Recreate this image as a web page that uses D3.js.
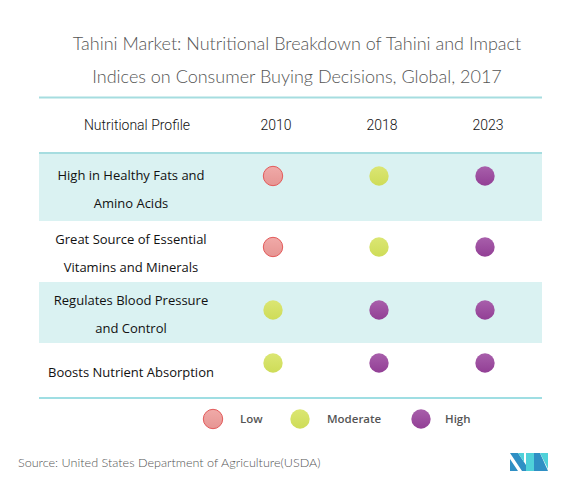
<!DOCTYPE html>
<html>
<head>
<meta charset="utf-8">
<script src="https://cdn.jsdelivr.net/npm/d3@7"></script>
<style>
  body { margin: 0; background: #fff; }
  svg { display: block; }
</style>
</head>
<body>
<div id="chart"></div>
<script>
// table content
var profiles = [
  ['High in Healthy Fats and', 'Amino Acids'],
  ['Great Source of Essential', 'Vitamins and Minerals'],
  ['Regulates Blood Pressure', 'and Control'],
  ['Boosts Nutrient Absorption']
];
var years = ['2010', '2018', '2023'];
var rating2010 = ['Low', 'Low', 'Moderate', 'Moderate'];
var rating2018 = ['Moderate', 'Moderate', 'High', 'High'];
var rating2023 = ['High', 'High', 'High', 'High'];
var levels = ['Low', 'Moderate', 'High'];

var ratings = [rating2010, rating2018, rating2023];

var width = 578, height = 485;

var svg = d3.select('#chart')
  .append('svg')
    .attr('width', width)
    .attr('height', height);

// gradients for the dots
var defs = svg.append('defs');
var dotColors = {
  Low:      { light: '#f0aaa8', dark: '#e69593', stroke: '#e35a5a' },
  Moderate: { light: '#dbe673', dark: '#cedc58', stroke: 'none' },
  High:     { light: '#a85fab', dark: '#923f95', stroke: 'none' }
};
levels.forEach(function(l) {
  var g = defs.append('linearGradient')
    .attr('id', 'grad-' + l)
    .attr('x1', 0).attr('y1', 0).attr('x2', 0).attr('y2', 1);
  g.append('stop').attr('offset', '0%').attr('stop-color', dotColors[l].light);
  g.append('stop').attr('offset', '100%').attr('stop-color', dotColors[l].dark);
});

// title
svg.append('g')
  .selectAll('text')
  .data(['Tahini Market: Nutritional Breakdown of Tahini and Impact',
         'Indices on Consumer Buying Decisions, Global, 2017'])
  .enter()
    .append('text')
      .attr('x', 297)
      .attr('y', function(d, i) { return 50 + i * 33.3; })
      .attr('text-anchor', 'middle')
      .attr('font-family', 'Lato, sans-serif')
      .attr('font-weight', 300)
      .attr('font-size', 18)
      .attr('fill', '#555')
      .text(function(d) { return d; });

var left = 39, right = 542;
var labelX = 131;

// year columns
var x = d3.scalePoint()
  .domain(years)
  .range([273, 485]);

// rows (first row a little taller)
var rowHeights = [68, 61, 61, 55];
var rowTop = [153];
rowHeights.forEach(function(h, i) { rowTop.push(rowTop[i] + h); });
var labelOffset = [27, 23, 23, 34];
var dotOffset = [23, 26, 28, 20];

// row bands
svg.append('g')
  .selectAll('rect')
  .data(profiles)
  .enter()
    .append('rect')
      .attr('x', left)
      .attr('y', function(d, i) { return rowTop[i]; })
      .attr('width', right - left)
      .attr('height', function(d, i) { return rowHeights[i]; })
      .attr('fill', function(d, i) { return i % 2 === 0 ? '#daf2f2' : '#fff'; });

// rules
svg.append('g')
  .selectAll('line')
  .data([97.5, 153, rowTop[4]])
  .enter()
    .append('line')
      .attr('x1', left).attr('x2', right)
      .attr('y1', function(d) { return d; })
      .attr('y2', function(d) { return d; })
      .attr('stroke', function(d, i) { return i === 2 ? '#7fd3da' : '#a6dde0'; })
      .attr('stroke-width', function(d, i) { return i === 2 ? 1.3 : 2.2; });

// header
var header = svg.append('g')
  .attr('font-family', 'Roboto, sans-serif')
  .attr('font-weight', 300)
  .attr('font-size', 14)
  .attr('fill', '#111')
  .attr('text-anchor', 'middle');

header.append('text')
  .attr('x', 137)
  .attr('y', 130)
  .text('Nutritional Profile');

header.selectAll('text.year')
  .data(years)
  .enter()
    .append('text')
      .attr('class', 'year')
      .attr('x', function(d) { return x(d) + 3; })
      .attr('y', 130)
      .text(function(d) { return d; });

// row labels
var labels = svg.append('g')
  .selectAll('text')
  .data(profiles)
  .enter()
    .append('text')
      .attr('text-anchor', 'middle')
      .attr('font-family', '"Open Sans", sans-serif')
      .attr('font-size', 13)
      .attr('fill', '#111');

labels.each(function(d, i) {
  var t = d3.select(this);
  d.forEach(function(line, j) {
    t.append('tspan')
      .attr('x', labelX)
      .attr('y', rowTop[i] + labelOffset[i] + j * 27.7)
      .text(line);
  });
});

// dots
ratings.forEach(function(col, c) {
  svg.append('g')
    .selectAll('circle')
    .data(col)
    .enter()
      .append('circle')
        .attr('cx', x(years[c]))
        .attr('cy', function(d, i) { return rowTop[i] + dotOffset[i]; })
        .attr('r', 9.7)
        .attr('fill', function(d) { return 'url(#grad-' + d + ')'; })
        .attr('stroke', function(d) { return dotColors[d].stroke; })
        .attr('stroke-width', 1);
});

// legend
var legendX = d3.scaleOrdinal().domain(levels).range([213, 300, 421]);
var legend = svg.append('g')
  .selectAll('g')
  .data(levels)
  .enter()
    .append('g')
      .attr('transform', function(d) { return 'translate(' + legendX(d) + ',419)'; });

legend.append('circle')
  .attr('r', 9.7)
  .attr('fill', function(d) { return 'url(#grad-' + d + ')'; })
  .attr('stroke', function(d) { return dotColors[d].stroke; })
  .attr('stroke-width', 1);

legend.append('text')
  .attr('x', function(d) { return d === 'High' ? 24 : 27; })
  .attr('y', 4)
  .attr('font-family', '"Open Sans", sans-serif')
  .attr('font-weight', 600)
  .attr('font-size', 11.5)
  .attr('fill', '#555')
  .text(function(d) { return d; });

// source
svg.append('text')
  .attr('x', 18)
  .attr('y', 467)
  .attr('font-family', 'Lato, sans-serif')
  .attr('font-weight', 300)
  .attr('font-size', 12.6)
  .attr('fill', '#555')
  .text('Source: United States Department of Agriculture(USDA)');

// logo
var logo = svg.append('g').attr('transform', 'translate(510,453)');
logo.append('path').attr('d', 'M0,0 L8,0 L20,18 L12,18 Z M0,6 L0,18 L8,18 Z').attr('fill', '#2f8fc4');
logo.append('path').attr('d', 'M8,0 L14,0 L14,9 Z').attr('fill', '#4fd1d9');
logo.append('path').attr('d', 'M16,0 L24,0 L24,18 L16,18 Z').attr('fill', '#4fd1d9');
logo.append('path').attr('d', 'M24,0 L30,0 L38,18 L24,18 Z').attr('fill', '#2f8fc4');
logo.append('path').attr('d', 'M30,0 L38,0 L38,16 Z').attr('fill', '#4fd1d9');
</script>
</body>
</html>
